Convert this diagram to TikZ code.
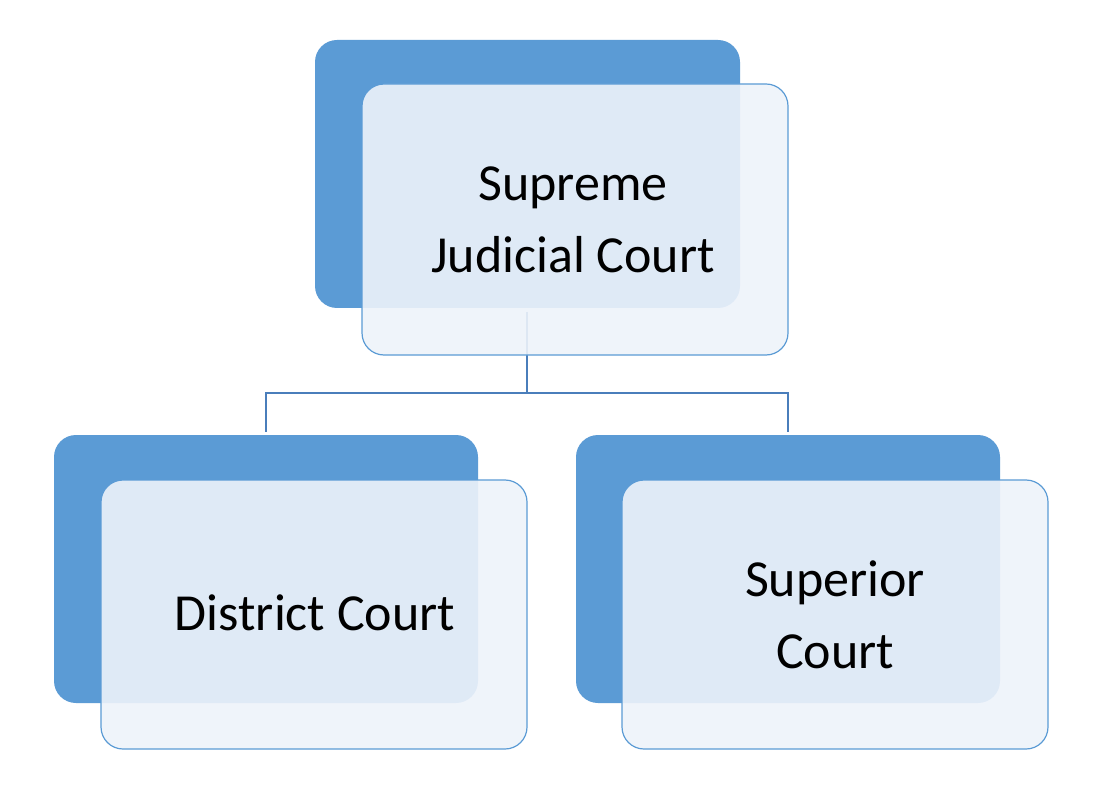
\documentclass[tikz,border=0pt]{standalone}
\usepackage{fontspec}
\setmainfont{Carlito}
\begin{document}
\begin{tikzpicture}[x=1pt,y=-1pt,
  back/.style={fill=blue1,rounded corners=22pt},
  front/.style={fill=front1,fill opacity=0.9,draw=blue1,line width=1.2pt,rounded corners=22pt},
  lbl/.style={font=\fontsize{52}{72}\selectfont,align=center,text=black},
  conn/.style={draw=line1,line width=1.2pt}]
\definecolor{blue1}{HTML}{5B9BD5}
\definecolor{front1}{HTML}{EEF3FA}
\definecolor{line1}{HTML}{4A7EBB}
\useasboundingbox (0,0) rectangle (1094,791);
\fill[white] (0,0) rectangle (1094,791);
% back boxes
\path[back] (315,40) rectangle (740,308);
\path[back] (54,435) rectangle (478,703);
\path[back] (576,435) rectangle (1000,703);
\coordinate (tb) at (527,312);
\coordinate (lb) at (266,432);
\coordinate (rb) at (788,432);
\draw[conn] (tb) -- (527,393) -| (lb);
\draw[conn] (527,393) -| (rb);
% front boxes
\path[front] (362,84) rectangle (788,355);
\path[front] (101,480) rectangle (527,749);
\path[front] (622,480) rectangle (1048,749);
\node[lbl] (sup) at (573,220) {Supreme\\Judicial Court};
\node[lbl] (dis) at (315,613) {District Court};
\node[lbl] (spr) at (835,615) {Superior\\Court};
\end{tikzpicture}
\end{document}
